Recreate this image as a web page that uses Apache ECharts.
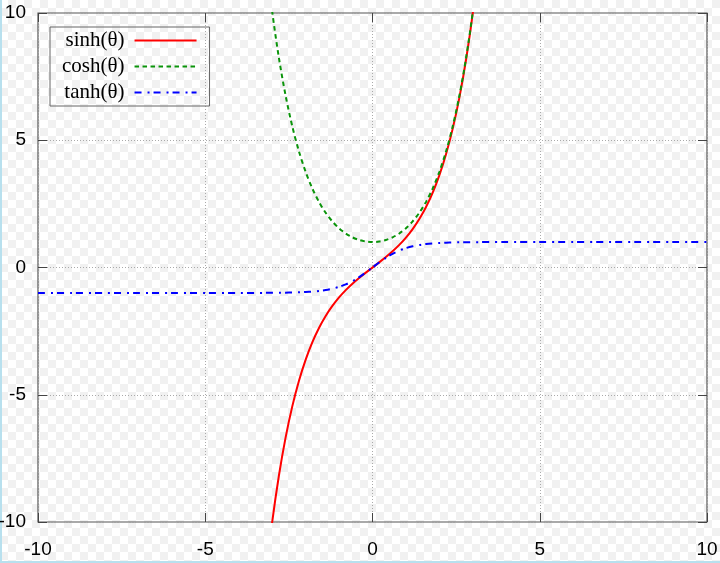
<!DOCTYPE html>
<html>
<head>
<meta charset="utf-8">
<script src="https://cdn.jsdelivr.net/npm/echarts@6/dist/echarts.min.js"></script>
<style>
  html, body { margin: 0; padding: 0; }
  body {
    width: 720px; height: 563px; overflow: hidden;
    background-color: #ffffff;
    background-image:
      linear-gradient(45deg, #f1f1f1 25%, transparent 25%, transparent 75%, #f1f1f1 75%),
      linear-gradient(45deg, #f1f1f1 25%, transparent 25%, transparent 75%, #f1f1f1 75%);
    background-size: 16px 16px;
    background-position: 0 0, 8px 8px;
  }
  #frame { position: absolute; left: 0; top: 0; width: 718px; height: 561px;
    border-left: 2px solid #b8e0ee; border-bottom: 2px solid #b8e0ee; }
  #chart { position: absolute; left: 0; top: 0; width: 720px; height: 563px; }
</style>
</head>
<body>
<div id="frame"></div>
<div id="chart"></div>
<script>
const theta = [-3.2,-3.0,-2.8,-2.6,-2.4,-2.2,-2.0,-1.8,-1.6,-1.4,-1.2,-1.0,-0.8,-0.6,-0.4,-0.2,0,
               0.2,0.4,0.6,0.8,1.0,1.2,1.4,1.6,1.8,2.0,2.2,2.4,2.6,2.8,3.0,3.2];
const sinhValues = [-12.2459,-10.0179,-8.1919,-6.6947,-5.4662,-4.4571,-3.6269,-2.9422,-2.3756,-1.9043,-1.5095,-1.1752,-0.8881,-0.6367,-0.4108,-0.2013,0,
                    0.2013,0.4108,0.6367,0.8881,1.1752,1.5095,1.9043,2.3756,2.9422,3.6269,4.4571,5.4662,6.6947,8.1919,10.0179,12.2459];
const coshValues = [12.2866,10.0677,8.2527,6.7690,5.5569,4.5679,3.7622,3.1075,2.5775,2.1509,1.8107,1.5431,1.3374,1.1855,1.0811,1.0201,1,
                    1.0201,1.0811,1.1855,1.3374,1.5431,1.8107,2.1509,2.5775,3.1075,3.7622,4.5679,5.5569,6.7690,8.2527,10.0677,12.2866];
const tanhTheta = [-10,-9,-8,-7,-6,-5,-4,-3.5,-3.2,-3.0,-2.8,-2.6,-2.4,-2.2,-2.0,-1.8,-1.6,-1.4,-1.2,-1.0,-0.8,-0.6,-0.4,-0.2,0,
                   0.2,0.4,0.6,0.8,1.0,1.2,1.4,1.6,1.8,2.0,2.2,2.4,2.6,2.8,3.0,3.2,3.5,4,5,6,7,8,9,10];
const tanhValues = [-1,-1,-1,-1,-1,-0.9999,-0.9993,-0.9982,-0.9967,-0.9951,-0.9926,-0.9890,-0.9837,-0.9757,-0.9640,-0.9468,-0.9217,-0.8854,-0.8337,-0.7616,-0.6640,-0.5370,-0.3799,-0.1974,0,
                    0.1974,0.3799,0.5370,0.6640,0.7616,0.8337,0.8854,0.9217,0.9468,0.9640,0.9757,0.9837,0.9890,0.9926,0.9951,0.9967,0.9982,0.9993,0.9999,1,1,1,1,1];
const seriesNames = ['sinh(θ)', 'cosh(θ)', 'tanh(θ)'];
const axisTicks = [-10, -5, 0, 5, 10];

const zip = (xs, ys) => xs.map((x, i) => [x, ys[i]]);

const chart = echarts.init(document.getElementById('chart'), null, { renderer: 'canvas' });

const tickStyle = { show: true, inside: true, length: 9, lineStyle: { color: '#444', width: 1 } };
const labelStyle = { color: '#000', fontFamily: 'Liberation Sans', fontSize: 19 };
const baseAxis = (extra) => Object.assign({
  type: 'value', min: axisTicks[0], max: axisTicks[axisTicks.length - 1], interval: 5,
  axisLine: { show: false, onZero: false }, axisTick: tickStyle
}, extra);

chart.setOption({
  animation: false,
  backgroundColor: 'transparent',
  grid: { left: 38, right: 13, top: 13, bottom: 41, show: true, borderColor: '#555', borderWidth: 1.2,
          backgroundColor: 'transparent', containLabel: false, outerBoundsMode: 'none' },
  legend: {
    orient: 'vertical', left: 50, top: 27, align: 'right',
    padding: [3, 12, 3, 12], itemGap: 5, itemWidth: 62, itemHeight: 14,
    itemStyle: { opacity: 0 },
    backgroundColor: 'rgba(255,255,255,0)', borderColor: '#666', borderWidth: 1, borderRadius: 0,
    textStyle: { fontFamily: 'Liberation Serif', fontSize: 21, color: '#000', width: 66, align: 'right', padding: [0, 5, 0, 0] },
    data: seriesNames
  },
  xAxis: [
    baseAxis({ position: 'bottom',
      axisLabel: Object.assign({ margin: 18 }, labelStyle),
      splitLine: { show: true, lineStyle: { color: '#aaa', type: [1, 2], width: 1 } } }),
    baseAxis({ position: 'top', axisLabel: { show: false }, splitLine: { show: false } })
  ],
  yAxis: [
    baseAxis({ position: 'left',
      axisLabel: Object.assign({ margin: 12 }, labelStyle),
      splitLine: { show: true, lineStyle: { color: '#aaa', type: [1, 2], width: 1 } } }),
    baseAxis({ position: 'right', axisLabel: { show: false }, splitLine: { show: false } })
  ],
  series: [
    { name: seriesNames[0], type: 'line', data: zip(theta, sinhValues), showSymbol: false, symbol: 'none',
      smooth: 0.3, clip: true, lineStyle: { color: '#ff0000', width: 2 }, itemStyle: { color: '#ff0000' } },
    { name: seriesNames[1], type: 'line', data: zip(theta, coshValues), showSymbol: false, symbol: 'none',
      smooth: 0.3, clip: true, lineStyle: { color: '#0a940a', width: 2, type: [4.5, 3.5] }, itemStyle: { color: '#0a940a' } },
    { name: seriesNames[2], type: 'line', data: zip(tanhTheta, tanhValues), showSymbol: false, symbol: 'none',
      smooth: 0.3, clip: true, lineStyle: { color: '#0000ff', width: 2, type: [7, 6, 2, 4] }, itemStyle: { color: '#0000ff' } }
  ]
});
</script>
</body>
</html>
